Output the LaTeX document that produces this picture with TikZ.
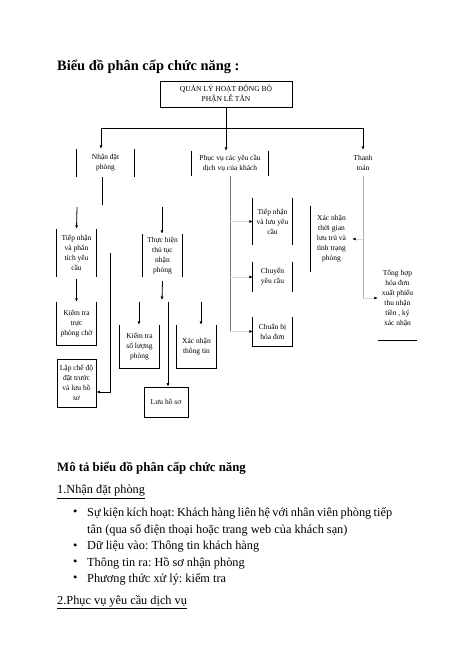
\documentclass[tikz,border=0pt]{standalone}
\usepackage{fontspec}
\setmainfont{Liberation Serif}
\usetikzlibrary{arrows.meta,positioning,calc}

\begin{document}
\frenchspacing
\begin{tikzpicture}[
  x=1pt, y=-1pt,
  font=\fontsize{7.5}{10}\selectfont,
  fn/.style={align=center, inner sep=0pt},
  box/.style={fn, draw, line width=0.8pt},
  side/.style={line width=0.8pt},
  arr/.style={-{Latex[length=3.5pt,width=3pt]}, line width=0.8pt},
  faint/.style={draw=black!30, line width=0.6pt},
  tip/.style={-{Latex[length=3.5pt,width=3pt,color=black]}, draw=black!15, line width=0.6pt},
  head/.style={anchor=west, inner sep=0pt, font=\bfseries\fontsize{14.4}{17}\selectfont},
  body/.style={anchor=west, inner sep=0pt, font=\fontsize{12.3}{14}\selectfont}
]
\path[use as bounding box] (0,0) rectangle (474,670);

% ---------- Heading ----------
\node[head] (title) at (57,67) {Biểu đồ phân cấp chức năng :};

% ---------- Root and first level ----------
\node[box, minimum width=132pt, minimum height=26pt] (root) at (226,94)
  {QUẢN LÝ HOẠT ĐỘNG BỘ\\PHẬN LỄ TÂN};
\coordinate (bus1) at (101,128);
\coordinate (bus3) at (363,128);
\draw[side] (root.south) -- (root.south |- bus1);
\draw[side] (bus1) -- (bus3);

\node[fn, minimum width=57pt, minimum height=28pt] (ndp) at (105.5,163) {Nhận đặt\\phòng};
\node[fn, minimum width=76pt, minimum height=25pt] (pv) at (230,163.5) {Phục vụ các yêu cầu\\dịch vụ của khách};
\node[fn, minimum width=30pt, minimum height=26pt] (tt) at (363,163) {Thanh\\toán};
\draw[side] (ndp.north west) -- (ndp.south west) (ndp.north east) -- (ndp.south east);
\draw[side] (pv.north west) -- (pv.south west) (pv.north east) -- (pv.south east);

\draw[arr] (bus1) -- (bus1 |- ndp.north);
\draw[arr] (root.south |- bus1) -- (root.south |- pv.north);
\draw[arr] (bus3) -- (tt.north);

% ---------- Nhan dat phong ----------
\node[fn, minimum width=39pt, minimum height=48pt] (tnpt) at (76.5,253) {Tiếp nhận\\và phân\\tích yêu\\cầu};
\node[fn, minimum width=39pt, minimum height=43pt] (ktt) at (76.5,323.5) {Kiểm tra\\trực\\phòng chờ};
\node[box, minimum width=39pt, minimum height=48pt] (lcd) at (76.5,383) {Lập chế độ\\đặt trước\\và lưu hồ\\sơ};
\node[fn, minimum width=39pt, minimum height=43pt] (th) at (162.5,255.5) {Thực hiện\\thủ tục\\nhận\\phòng};
\node[fn, minimum width=39pt, minimum height=43pt] (ksl) at (139.5,346.5) {Kiểm tra\\số lượng\\phòng};
\node[fn, minimum width=39pt, minimum height=43pt] (xntt) at (196.5,346.5) {Xác nhận\\thông tin};
\node[box, minimum width=44pt, minimum height=30pt] (lhs) at (166,402) {Lưu hồ sơ};

\draw[side] (tnpt.north west) -- (tnpt.south west) (tnpt.north east) -- (tnpt.south east);
\draw[side] (th.north west) -- (th.south west) (th.north east) -- (th.south east);
\draw[side] (ktt.north west) -- (ktt.south west) -- (ktt.south east) -- (ktt.north east);
\draw[side] (ksl.north west) -- (ksl.south west) -- (ksl.south east) -- (ksl.north east);
\draw[side] (xntt.north west) -- (xntt.south west) -- (xntt.south east) -- (xntt.north east);

\draw[side] ([xshift=-3.5pt]ndp.south) -- ++(0,28);
\coordinate (ndp1) at (77,207);
\coordinate (ndp2) at (162,207);
\draw[arr] (ndp1) -- (tnpt.north);
\draw[arr] (ndp2) -- (ndp2 |- th.north);
\draw[arr] ([yshift=-2pt]tnpt.south) -- (ktt.north);
\coordinate (lcd1) at (110,253);
\draw[arr] (lcd1) |- ([yshift=-9pt]lcd.east);

\coordinate (th1) at (162,300);
\draw[arr] ([yshift=-4pt]th.south) -- (th1);
\coordinate (th2) at (168,302);
\coordinate (th3) at (139,302);
\coordinate (th4) at (201,302);
\draw[arr] (th2) -- (th2 |- lhs.north);
\draw[arr] (th3) -- (th3 |- ksl.north);
\draw[arr] (th4) -- (th4 |- xntt.north);

% ---------- Phuc vu yeu cau ----------
\node[fn, minimum width=39pt, minimum height=47pt] (tnl) at (272.5,221.5) {Tiếp nhận\\và lưu yêu\\cầu};
\node[fn, minimum width=39pt, minimum height=30pt] (cyc) at (272.5,277) {Chuyển\\yêu cầu};
\node[fn, minimum width=39pt, minimum height=29pt] (cbhd) at (272.5,331.5) {Chuẩn bị\\hóa đơn};
\draw[side] (tnl.north west) -- (tnl.south west) (tnl.north east) -- (tnl.south east);
\draw[side] (cyc.north west) -- (cyc.south west) (cyc.north east) -- (cyc.south east);
\draw[side] (cbhd.north west) -- (cbhd.south west) -- (cbhd.south east) -- (cbhd.north east);

\draw[side, draw=black!55] (pv.south) -- (pv.south |- cbhd.west);
\draw[tip] (pv.south |- tnl.west) -- (tnl.west);
\draw[tip] (pv.south |- cyc.west) -- (cyc.west);
\draw[tip] (pv.south |- cbhd.west) -- (cbhd.west);

% ---------- Thanh toan ----------
\node[fn, minimum width=41pt, minimum height=66pt] (xntg) at (331.5,239) {Xác nhận\\thời gian\\lưu trú và\\tình trạng\\phòng};
\node[fn, minimum width=39pt] (thhd) at (397.5,298) {Tổng hợp\\hóa đơn\\xuất phiếu\\thu nhận\\tiền , ký\\xác nhận};
\draw[side] (xntg.north west) -- (xntg.south west);
\draw[side] ([yshift=-14pt]thhd.south west) -- ([yshift=-14pt]thhd.south east);

\draw[faint] (tt.south) -- (tt.south |- thhd.west);
\draw[tip] (tt.south |- xntg.east) -- (xntg.east);
\draw[tip] (tt.south |- thhd.west) -- (thhd.west);

% ---------- Description ----------
\node[head, font=\bfseries\fontsize{12.8}{15}\selectfont] (mota) at (57,468) {Mô tả biểu đồ phân cấp chức năng};
\node[body] (sec1) at (57,492) {\underline{1.Nhận đặt phòng}};
\node[body] (dot1) at (73,513) {•};
\node[body] (dot2) at (73,547) {•};
\node[body] (dot3) at (73,563) {•};
\node[body] (dot4) at (73,579) {•};
\node[body] (line1) at (87,513) {\spaceskip=0.19em Sự kiện kích hoạt: Khách hàng liên hệ với nhân viên phòng tiếp};
\node[body] (line2) at (87,530) {tân (qua số điện thoại hoặc trang web của khách sạn)};
\node[body] (line3) at (87,547) {Dữ liệu vào: Thông tin khách hàng};
\node[body] (line4) at (87,563) {Thông tin ra: Hồ sơ nhận phòng};
\node[body] (line5) at (87,579) {Phương thức xử lý: kiểm tra};
\node[body] (sec2) at (57,602) {\underline{2.Phục vụ yêu cầu dịch vụ}};
\end{tikzpicture}
\end{document}
